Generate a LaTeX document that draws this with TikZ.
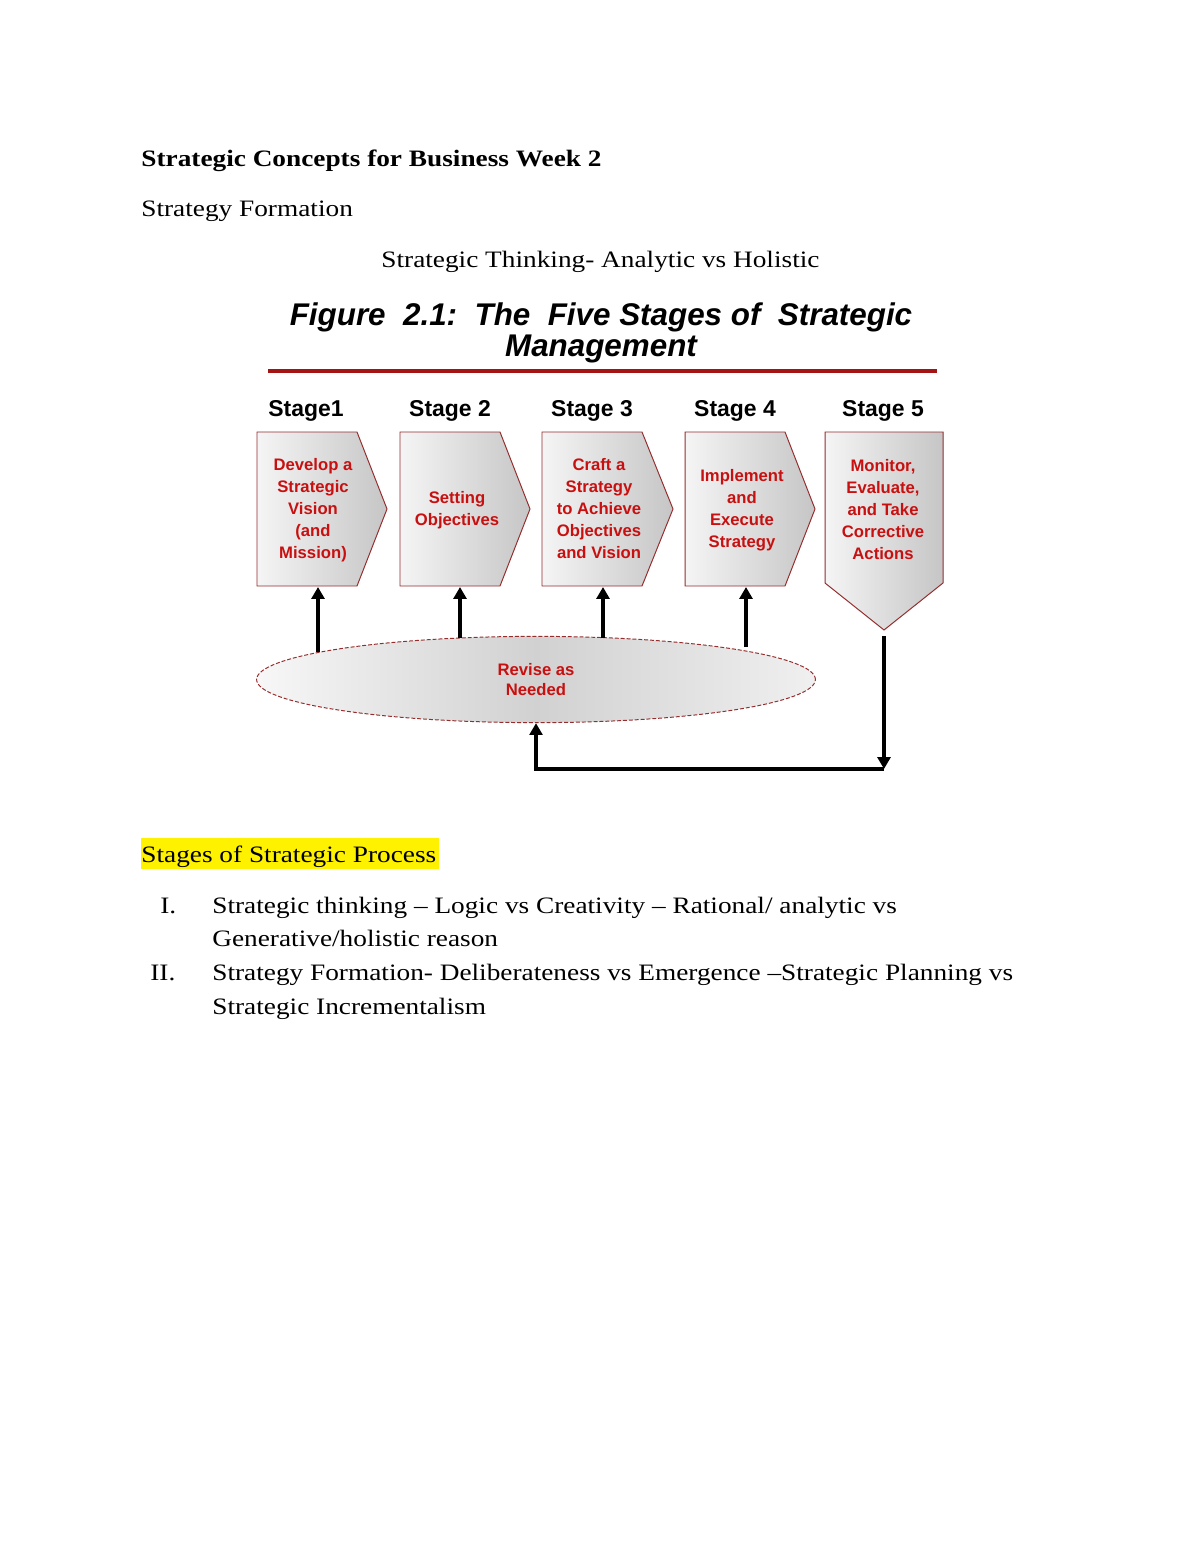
\documentclass[tikz,border=0pt]{standalone}
\usepackage{fontspec}
\setmainfont{Liberation Serif}[FakeStretch=1.16]
\newfontfamily\arialf{Liberation Sans}
\usetikzlibrary{arrows.meta,shapes.geometric}
\definecolor{boxred}{RGB}{200,16,16}
\definecolor{edgered}{RGB}{150,45,45}
\definecolor{rulered}{RGB}{165,20,20}
\begin{document}
\begin{tikzpicture}[x=0.51pt,y=-0.51pt,
  stagebox/.style={left color=gray!8, right color=gray!45, draw=edgered, line width=0.5pt},
  stagelbl/.style={font=\arialf\bfseries\fontsize{11.7}{14}\selectfont, anchor=base, inner sep=0pt},
  boxtxt/.style={font=\arialf\bfseries\fontsize{8.5}{11.2}\selectfont, text=boxred, align=center, inner sep=0pt},
  arr/.style={line width=2pt, -{Triangle[length=6pt,width=6.5pt]}},
  body/.style={font=\fontsize{12}{14}\selectfont, anchor=base west, inner sep=0pt},
]
\useasboundingbox (0,0) rectangle (1200,1553);
\fill[white] (0,0) rectangle (1200,1553);

% header text
\node[body, font=\bfseries\fontsize{12}{14}\selectfont] (h1) at (141,167) {Strategic Concepts for Business Week 2};
\node[body] (h2) at (141,216) {Strategy Formation};
\node[body] (h3) at (381,267) {Strategic Thinking- Analytic vs Holistic};

% figure title
\node[font=\arialf\bfseries\itshape\fontsize{16}{16}\selectfont, align=center, inner sep=0pt] (title) at (601,333)
  {Figure\ \ 2.1:\ \ The\ \ Five Stages of\ \ Strategic\\Management};
\coordinate (rl) at (268,371);
\coordinate (rr) at (937,371);
\draw[rulered, line width=2pt] (rl) -- (rr);

% stage labels
\node[stagelbl] (l1) at (306,416) {Stage1};
\node[stagelbl] (l2) at (450,416) {Stage 2};
\node[stagelbl] (l3) at (592,416) {Stage 3};
\node[stagelbl] (l4) at (735,416) {Stage 4};
\node[stagelbl] (l5) at (883,416) {Stage 5};

% stage boxes
\shade[stagebox] (257,432) -- (357,432) -- (387,509) -- (357,586) -- (257,586) -- cycle;
\shade[stagebox] (400,432) -- (500,432) -- (530,509) -- (500,586) -- (400,586) -- cycle;
\shade[stagebox] (542,432) -- (642,432) -- (673,509) -- (642,586) -- (542,586) -- cycle;
\shade[stagebox] (685,432) -- (785,432) -- (815,509) -- (785,586) -- (685,586) -- cycle;
\shade[stagebox] (825,432) -- (943,432) -- (943,583) -- (884,630) -- (825,583) -- cycle;

\node[boxtxt] (s1) at (313,510) {Develop a\\Strategic\\Vision\\(and\\Mission)};
\node[boxtxt] (s2) at (457,510) {Setting\\Objectives};
\node[boxtxt] (s3) at (599,508.5) {Craft a\\Strategy\\to Achieve\\Objectives\\and Vision};
\node[boxtxt] (s4) at (742,510) {Implement\\and\\Execute\\Strategy};
\node[boxtxt] (s5) at (883,509.5) {Monitor,\\Evaluate,\\and Take\\Corrective\\Actions};

\coordinate (b1) at (318,587);
\coordinate (b2) at (460,587);
\coordinate (b3) at (603,587);
\coordinate (b4) at (746,587);
\coordinate (t5) at (884,636);

% revise ellipse
\node[ellipse, minimum width=285pt, minimum height=44pt, inner sep=0pt,
      left color=gray!6, right color=gray!12, middle color=gray!36,
      draw=edgered, line width=0.5pt, dash pattern=on 2pt off 1pt,
      font=\arialf\bfseries\fontsize{8.5}{10.2}\selectfont, text=boxred, align=center] (rev) at (536,679.5) {Revise as\\Needed};

\coordinate (e1) at (318,652);
\coordinate (e2) at (460,638);
\coordinate (e3) at (603,638);
\coordinate (e4) at (746,647);
\draw[arr] (e1) -- (b1);
\draw[arr] (e2) -- (b2);
\draw[arr] (e3) -- (b3);
\draw[arr] (e4) -- (b4);

\coordinate (corner) at (884,769);
\draw[arr] (t5) -- (corner);
\draw[arr] (corner) -| (rev.south);

% bottom text
\fill[yellow] (141,838) rectangle (439,869);
\node[body] (sp) at (141,862) {Stages of Strategic Process};
\node[body] (n1) at (160,913) {I.};
\node[body] (i1a) at (212,913) {Strategic thinking – Logic vs Creativity – Rational/ analytic vs};
\node[body] (i1b) at (212,946) {Generative/holistic reason};
\node[body] (n2) at (150,980) {II.};
\node[body] (i2a) at (212,980) {Strategy Formation- Deliberateness vs Emergence –Strategic Planning vs};
\node[body] (i2b) at (212,1014) {Strategic Incrementalism};
\end{tikzpicture}
\end{document}
